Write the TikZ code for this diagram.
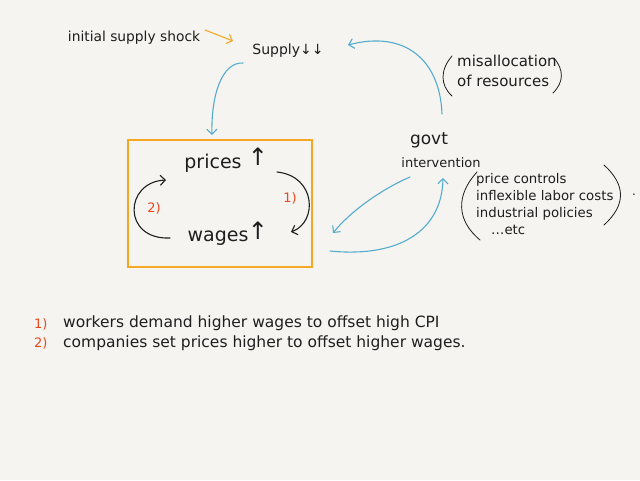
\documentclass[tikz,border=0pt]{standalone}
\usepackage{fontspec}
\setmainfont{DejaVu Sans}
\usetikzlibrary{arrows.meta}
\definecolor{cus-paper}{RGB}{245,244,241}
\definecolor{cus-orange}{RGB}{245,168,35}
\definecolor{cus-blue}{RGB}{84,172,204}
\definecolor{cus-red}{RGB}{232,72,30}
\definecolor{cus-ink}{RGB}{30,30,30}
\tikzset{
  hw/.style={font=\fontsize{#1pt}{\dimexpr#1pt*13/10\relax}\selectfont, text=cus-ink, inner sep=1pt},
  pen/.style={line width=1.1pt, line cap=round},
  barb/.style={-{Straight Barb[length=5pt,width=10pt]}}
}

\begin{document}
\begin{tikzpicture}[x=1pt, y=-1pt]
\fill[cus-paper] (0,0) rectangle (640,480);
\useasboundingbox (0,0) rectangle (640,480);

\node[hw=13.8] (shock) at (134,38) {initial supply shock};
\node[hw=14] (supply) at (288,51) {Supply↓↓};
\coordinate (shockA) at (205,30);
\coordinate (shockB) at (233,41);
\draw[pen, cus-orange, barb] (shockA) -- (shockB);

\node[draw=cus-orange, line width=1.1pt, minimum width=184pt, minimum height=127pt] (box) at (220,203.5) {};
\node[hw=19] (prices) at (213,163) {prices};
\node[hw=24] (pup) at (258,157) {↑};
\node[hw=19] (wages) at (218,238) {wages};
\node[hw=24] (wup) at (258,231) {↑};
\node[hw=13, text=cus-red] (one) at (290,198) {1)};
\node[hw=13, text=cus-red] (two) at (154,208) {2)};

\coordinate (p1) at (277,172);
\coordinate (p2) at (291,232);
\coordinate (w1) at (170,238);
\coordinate (w2) at (166,180);
\draw[pen, cus-ink, barb] (p1) .. controls (316,176) and (318,222) .. (p2);
\draw[pen, cus-ink, barb] (w1) .. controls (122,240) and (124,182) .. (w2);

\node[hw=17] (govt) at (429,140) {govt};
\node[hw=13] (interv) at (441,163) {intervention};

\coordinate (s1) at (243,63);
\coordinate (b1) at (212,135);
\coordinate (g1) at (442,114);
\coordinate (s2) at (348,45);
\coordinate (g2) at (410,177);
\coordinate (b2) at (333,233);
\coordinate (b3) at (330,251);
\coordinate (g3) at (443,178);
\draw[pen, cus-blue, barb] (s1) .. controls (222,62) and (211,95) .. (b1);
\draw[pen, cus-blue, barb] (g1) .. controls (440,60) and (405,30) .. (s2);
\draw[pen, cus-blue, barb] (g2) .. controls (380,190) and (350,212) .. (b2);
\draw[pen, cus-blue, barb] (b3) .. controls (400,258) and (442,230) .. (g3);

\node[hw=15, align=left, anchor=west] (misal) at (456,71) {misallocation\\of resources};
\draw[pen, cus-ink, line width=0.8pt] (452,56) .. controls (440,70) and (440,85) .. (452,96);
\draw[pen, cus-ink, line width=0.8pt] (554,58) .. controls (564,70) and (564,82) .. (553,93);

\node[hw=13.3, align=left, anchor=west] (policies) at (475,204)
  {price controls\\inflexible labor costs\\industrial policies\\\hspace*{15pt}\ldots etc};
\draw[pen, cus-ink, line width=0.8pt] (477,172) .. controls (456,195) and (456,220) .. (480,240);
\draw[pen, cus-ink, line width=0.8pt] (604,165) .. controls (626,185) and (626,205) .. (604,225);
\node[hw=12] (dot) at (634,195) {.};

\node[hw=13, text=cus-red, anchor=west] (n1) at (33,324) {1)};
\node[hw=15.5, anchor=west] (note1) at (62,323) {workers demand higher wages to offset high CPI};
\node[hw=13, text=cus-red, anchor=west] (n2) at (33,343) {2)};
\node[hw=15.5, anchor=west] (note2) at (62,343) {companies set prices higher to offset higher wages.};
\end{tikzpicture}
\end{document}
